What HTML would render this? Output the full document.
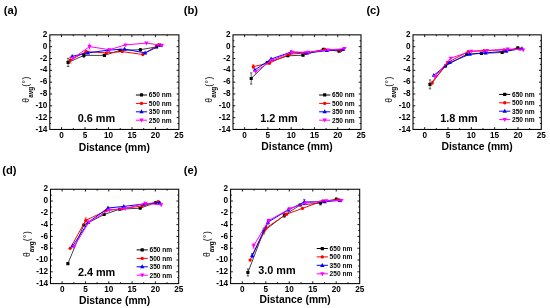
<!DOCTYPE html>
<html lang="en"><head><meta charset="utf-8"><title>Figure</title>
<style>html,body{margin:0;padding:0;background:#fff}svg{display:block}</style>
</head><body>
<svg width="550" height="308" viewBox="0 0 550 308" font-family="&quot;Liberation Sans&quot;, Arial, sans-serif" font-weight="bold" fill="#000">
<rect width="550" height="308" fill="#fff"/>
<g>
<text x="3.7" y="14.35" font-size="11.2">(a)</text>
<path d="M61.54 129.45v-2.3M61.54 34.85v2.3M73.27 129.45v-1.4M73.27 34.85v1.4M85.01 129.45v-2.3M85.01 34.85v2.3M96.75 129.45v-1.4M96.75 34.85v1.4M108.48 129.45v-2.3M108.48 34.85v2.3M120.22 129.45v-1.4M120.22 34.85v1.4M131.95 129.45v-2.3M131.95 34.85v2.3M143.69 129.45v-1.4M143.69 34.85v1.4M155.43 129.45v-2.3M155.43 34.85v2.3M167.16 129.45v-1.4M167.16 34.85v1.4M49.8 40.76h1.4M178.9 40.76h-1.4M49.8 46.67h2.3M178.9 46.67h-2.3M49.8 52.59h1.4M178.9 52.59h-1.4M49.8 58.50h2.3M178.9 58.50h-2.3M49.8 64.41h1.4M178.9 64.41h-1.4M49.8 70.32h2.3M178.9 70.32h-2.3M49.8 76.24h1.4M178.9 76.24h-1.4M49.8 82.15h2.3M178.9 82.15h-2.3M49.8 88.06h1.4M178.9 88.06h-1.4M49.8 93.97h2.3M178.9 93.97h-2.3M49.8 99.89h1.4M178.9 99.89h-1.4M49.8 105.80h2.3M178.9 105.80h-2.3M49.8 111.71h1.4M178.9 111.71h-1.4M49.8 117.62h2.3M178.9 117.62h-2.3M49.8 123.54h1.4M178.9 123.54h-1.4" stroke="#000" stroke-width="0.9" fill="none"/>
<path d="M68.1 62.4L83.9 55.4L104.4 55.4L120.1 50.4L140.4 49.7L156.6 46.9" stroke="#000000" stroke-width="0.75" fill="none"/>
<path d="M68.1 58.3V66.5M66.9 58.3h2.4M66.9 66.5h2.4M83.9 53.5V57.3M82.7 53.5h2.4M82.7 57.3h2.4M104.4 54.4V56.4M103.2 54.4h2.4M103.2 56.4h2.4M120.1 49.4V51.4M118.9 49.4h2.4M118.9 51.4h2.4M140.4 48.5V50.9M139.2 48.5h2.4M139.2 50.9h2.4M156.6 46.1V47.7M155.4 46.1h2.4M155.4 47.7h2.4" stroke="#000000" stroke-width="0.6" fill="none"/>
<rect x="66.53" y="60.83" width="3.13" height="3.13" rx="0.5" fill="#000000"/>
<rect x="82.33" y="53.83" width="3.13" height="3.13" rx="0.5" fill="#000000"/>
<rect x="102.83" y="53.83" width="3.13" height="3.13" rx="0.5" fill="#000000"/>
<rect x="118.53" y="48.83" width="3.13" height="3.13" rx="0.5" fill="#000000"/>
<rect x="138.83" y="48.13" width="3.13" height="3.13" rx="0.5" fill="#000000"/>
<rect x="155.03" y="45.33" width="3.13" height="3.13" rx="0.5" fill="#000000"/>
<path d="M70.3 60.1L86.1 51.6L106.3 52.9L122.3 51.6L142.9 54.5L158.7 44.7" stroke="#ff0000" stroke-width="1.0" fill="none"/>
<path d="M70.3 57.1V63.1M69.1 57.1h2.4M69.1 63.1h2.4M86.1 50.6V52.6M84.9 50.6h2.4M84.9 52.6h2.4" stroke="#ff0000" stroke-width="0.6" fill="none"/>
<circle cx="70.3" cy="60.1" r="1.65" fill="#ff0000"/>
<circle cx="86.1" cy="51.6" r="1.65" fill="#ff0000"/>
<circle cx="106.3" cy="52.9" r="1.65" fill="#ff0000"/>
<circle cx="122.3" cy="51.6" r="1.65" fill="#ff0000"/>
<circle cx="142.9" cy="54.5" r="1.65" fill="#ff0000"/>
<circle cx="158.7" cy="44.7" r="1.65" fill="#ff0000"/>
<path d="M72.2 56.3L88.0 52.9L108.5 50.1L124.6 49.1L145.1 52.9L160.6 45.3" stroke="#0000ff" stroke-width="1.0" fill="none"/>
<path d="M72.2 53.9L74.3 57.8L70.1 57.8Z" fill="#0000ff"/>
<path d="M88.0 50.5L90.1 54.4L85.9 54.4Z" fill="#0000ff"/>
<path d="M108.5 47.7L110.6 51.6L106.4 51.6Z" fill="#0000ff"/>
<path d="M124.6 46.7L126.7 50.6L122.5 50.6Z" fill="#0000ff"/>
<path d="M145.1 50.5L147.2 54.4L143.0 54.4Z" fill="#0000ff"/>
<path d="M160.6 42.9L162.7 46.8L158.5 46.8Z" fill="#0000ff"/>
<path d="M73.0 58.3L89.5 46.6L109.5 49.7L125.4 44.9L146.3 43.1L161.9 45.3" stroke="#ff00ff" stroke-width="1.0" fill="none"/>
<path d="M89.5 44.1V49.1M88.3 44.1h2.4M88.3 49.1h2.4" stroke="#ff00ff" stroke-width="0.6" fill="none"/>
<path d="M73.0 60.7L75.1 56.8L70.9 56.8Z" fill="#ff00ff"/>
<path d="M89.5 49.0L91.6 45.1L87.4 45.1Z" fill="#ff00ff"/>
<path d="M109.5 52.1L111.6 48.2L107.4 48.2Z" fill="#ff00ff"/>
<path d="M125.4 47.3L127.5 43.4L123.3 43.4Z" fill="#ff00ff"/>
<path d="M146.3 45.5L148.4 41.6L144.2 41.6Z" fill="#ff00ff"/>
<path d="M161.9 47.7L164.0 43.8L159.8 43.8Z" fill="#ff00ff"/>
<rect x="49.8" y="34.85" width="129.10000000000002" height="94.6" fill="none" stroke="#000" stroke-width="1.05"/>
<text x="61.5" y="138.0" font-size="8.2" text-anchor="middle">0</text>
<text x="85.0" y="138.0" font-size="8.2" text-anchor="middle">5</text>
<text x="108.5" y="138.0" font-size="8.2" text-anchor="middle">10</text>
<text x="132.0" y="138.0" font-size="8.2" text-anchor="middle">15</text>
<text x="155.4" y="138.0" font-size="8.2" text-anchor="middle">20</text>
<text x="178.9" y="138.0" font-size="8.2" text-anchor="middle">25</text>
<text x="47.3" y="37.0" font-size="8.2" text-anchor="end">2</text>
<text x="47.3" y="48.8" font-size="8.2" text-anchor="end">0</text>
<text x="47.3" y="60.6" font-size="8.2" text-anchor="end">-2</text>
<text x="47.3" y="72.4" font-size="8.2" text-anchor="end">-4</text>
<text x="47.3" y="84.2" font-size="8.2" text-anchor="end">-6</text>
<text x="47.3" y="96.1" font-size="8.2" text-anchor="end">-8</text>
<text x="47.3" y="107.9" font-size="8.2" text-anchor="end">-10</text>
<text x="47.3" y="119.7" font-size="8.2" text-anchor="end">-12</text>
<text x="47.3" y="131.5" font-size="8.2" text-anchor="end">-14</text>
<text x="114.3" y="150.6" font-size="10.35" text-anchor="middle">Distance (mm)</text>
<text transform="translate(28.9 102.7) rotate(-90)" font-size="8.7" font-weight="normal">θ<tspan font-size="6.4" dy="4.1" font-weight="bold">avg</tspan><tspan dy="-4.1" letter-spacing="0.45">(°)</tspan></text>
<text x="77.7" y="122.3" font-size="10.85">0.6 mm</text>
<path d="M135.9 95.0h11.2" stroke="#000000" stroke-width="1" fill="none"/>
<rect x="139.88" y="93.34" width="3.23" height="3.23" rx="0.5" fill="#000000"/>
<text x="148.8" y="97.2" font-size="6.6">650 nm</text>
<path d="M135.9 103.4h11.2" stroke="#ff0000" stroke-width="1" fill="none"/>
<circle cx="141.5" cy="103.4" r="1.70" fill="#ff0000"/>
<text x="148.8" y="105.7" font-size="6.6">500 nm</text>
<path d="M135.9 111.8h11.2" stroke="#0000ff" stroke-width="1" fill="none"/>
<path d="M141.5 109.3L143.7 113.3L139.3 113.3Z" fill="#0000ff"/>
<text x="148.8" y="114.0" font-size="6.6">350 nm</text>
<path d="M135.9 120.2h11.2" stroke="#ff00ff" stroke-width="1" fill="none"/>
<path d="M141.5 122.6L143.7 118.6L139.3 118.6Z" fill="#ff00ff"/>
<text x="148.8" y="122.5" font-size="6.6">250 nm</text>
</g>
<g>
<text x="183.8" y="14.35" font-size="11.2">(b)</text>
<path d="M244.64 129.45v-2.3M244.64 34.85v2.3M256.27 129.45v-1.4M256.27 34.85v1.4M267.91 129.45v-2.3M267.91 34.85v2.3M279.55 129.45v-1.4M279.55 34.85v1.4M291.18 129.45v-2.3M291.18 34.85v2.3M302.82 129.45v-1.4M302.82 34.85v1.4M314.45 129.45v-2.3M314.45 34.85v2.3M326.09 129.45v-1.4M326.09 34.85v1.4M337.73 129.45v-2.3M337.73 34.85v2.3M349.36 129.45v-1.4M349.36 34.85v1.4M233 40.76h1.4M361 40.76h-1.4M233 46.67h2.3M361 46.67h-2.3M233 52.59h1.4M361 52.59h-1.4M233 58.50h2.3M361 58.50h-2.3M233 64.41h1.4M361 64.41h-1.4M233 70.32h2.3M361 70.32h-2.3M233 76.24h1.4M361 76.24h-1.4M233 82.15h2.3M361 82.15h-2.3M233 88.06h1.4M361 88.06h-1.4M233 93.97h2.3M361 93.97h-2.3M233 99.89h1.4M361 99.89h-1.4M233 105.80h2.3M361 105.80h-2.3M233 111.71h1.4M361 111.71h-1.4M233 117.62h2.3M361 117.62h-2.3M233 123.54h1.4M361 123.54h-1.4" stroke="#000" stroke-width="0.9" fill="none"/>
<path d="M251.2 78.5L267.4 62.6L287.9 55.8L303.0 55.2L323.5 49.3L339.1 51.2" stroke="#000000" stroke-width="0.75" fill="none"/>
<path d="M251.2 72.9V84.1M250.0 72.9h2.4M250.0 84.1h2.4M267.4 61.4V63.8M266.2 61.4h2.4M266.2 63.8h2.4M287.9 55.0V56.6M286.7 55.0h2.4M286.7 56.6h2.4M303.0 54.4V56.0M301.8 54.4h2.4M301.8 56.0h2.4" stroke="#000000" stroke-width="0.6" fill="none"/>
<rect x="249.63" y="76.93" width="3.13" height="3.13" rx="0.5" fill="#000000"/>
<rect x="265.83" y="61.03" width="3.13" height="3.13" rx="0.5" fill="#000000"/>
<rect x="286.33" y="54.23" width="3.13" height="3.13" rx="0.5" fill="#000000"/>
<rect x="301.43" y="53.63" width="3.13" height="3.13" rx="0.5" fill="#000000"/>
<rect x="321.93" y="47.73" width="3.13" height="3.13" rx="0.5" fill="#000000"/>
<rect x="337.53" y="49.63" width="3.13" height="3.13" rx="0.5" fill="#000000"/>
<path d="M253.3 66.7L269.5 62.9L289.5 54.2L305.0 53.0L325.1 49.5L341.0 50.6" stroke="#ff0000" stroke-width="1.0" fill="none"/>
<path d="M253.3 64.7V68.7M252.1 64.7h2.4M252.1 68.7h2.4M269.5 61.4V64.4M268.3 61.4h2.4M268.3 64.4h2.4" stroke="#ff0000" stroke-width="0.6" fill="none"/>
<circle cx="253.3" cy="66.7" r="1.65" fill="#ff0000"/>
<circle cx="269.5" cy="62.9" r="1.65" fill="#ff0000"/>
<circle cx="289.5" cy="54.2" r="1.65" fill="#ff0000"/>
<circle cx="305.0" cy="53.0" r="1.65" fill="#ff0000"/>
<circle cx="325.1" cy="49.5" r="1.65" fill="#ff0000"/>
<circle cx="341.0" cy="50.6" r="1.65" fill="#ff0000"/>
<path d="M254.9 69.9L271.1 59.0L291.1 52.0L307.0 53.0L327.0 50.6L343.0 49.5" stroke="#0000ff" stroke-width="1.0" fill="none"/>
<path d="M254.9 67.5L257.0 71.4L252.8 71.4Z" fill="#0000ff"/>
<path d="M271.1 56.6L273.2 60.5L269.0 60.5Z" fill="#0000ff"/>
<path d="M291.1 49.6L293.2 53.5L289.0 53.5Z" fill="#0000ff"/>
<path d="M307.0 50.6L309.1 54.5L304.9 54.5Z" fill="#0000ff"/>
<path d="M327.0 48.2L329.1 52.1L324.9 52.1Z" fill="#0000ff"/>
<path d="M343.0 47.1L345.1 51.0L340.9 51.0Z" fill="#0000ff"/>
<path d="M255.7 71.5L272.0 60.2L291.8 52.0L308.2 52.3L328.7 49.9L344.5 48.6" stroke="#ff00ff" stroke-width="1.0" fill="none"/>
<path d="M255.7 73.9L257.8 70.0L253.6 70.0Z" fill="#ff00ff"/>
<path d="M272.0 62.6L274.1 58.7L269.9 58.7Z" fill="#ff00ff"/>
<path d="M291.8 54.4L293.9 50.5L289.7 50.5Z" fill="#ff00ff"/>
<path d="M308.2 54.7L310.3 50.8L306.1 50.8Z" fill="#ff00ff"/>
<path d="M328.7 52.3L330.8 48.4L326.6 48.4Z" fill="#ff00ff"/>
<path d="M344.5 51.0L346.6 47.1L342.4 47.1Z" fill="#ff00ff"/>
<rect x="233" y="34.85" width="128" height="94.6" fill="none" stroke="#000" stroke-width="1.05"/>
<text x="244.6" y="138.0" font-size="8.2" text-anchor="middle">0</text>
<text x="267.9" y="138.0" font-size="8.2" text-anchor="middle">5</text>
<text x="291.2" y="138.0" font-size="8.2" text-anchor="middle">10</text>
<text x="314.5" y="138.0" font-size="8.2" text-anchor="middle">15</text>
<text x="337.7" y="138.0" font-size="8.2" text-anchor="middle">20</text>
<text x="361.0" y="138.0" font-size="8.2" text-anchor="middle">25</text>
<text x="230.5" y="37.0" font-size="8.2" text-anchor="end">2</text>
<text x="230.5" y="48.8" font-size="8.2" text-anchor="end">0</text>
<text x="230.5" y="60.6" font-size="8.2" text-anchor="end">-2</text>
<text x="230.5" y="72.4" font-size="8.2" text-anchor="end">-4</text>
<text x="230.5" y="84.2" font-size="8.2" text-anchor="end">-6</text>
<text x="230.5" y="96.1" font-size="8.2" text-anchor="end">-8</text>
<text x="230.5" y="107.9" font-size="8.2" text-anchor="end">-10</text>
<text x="230.5" y="119.7" font-size="8.2" text-anchor="end">-12</text>
<text x="230.5" y="131.5" font-size="8.2" text-anchor="end">-14</text>
<text x="297.0" y="149.5" font-size="10.35" text-anchor="middle">Distance (mm)</text>
<text transform="translate(212.1 102.7) rotate(-90)" font-size="8.7" font-weight="normal">θ<tspan font-size="6.4" dy="4.1" font-weight="bold">avg</tspan><tspan dy="-4.1" letter-spacing="0.45">(°)</tspan></text>
<text x="260.2" y="122.1" font-size="10.85">1.2 mm</text>
<path d="M319.1 95.0h11.2" stroke="#000000" stroke-width="1" fill="none"/>
<rect x="323.09" y="93.34" width="3.23" height="3.23" rx="0.5" fill="#000000"/>
<text x="332.0" y="97.2" font-size="6.6">650 nm</text>
<path d="M319.1 103.4h11.2" stroke="#ff0000" stroke-width="1" fill="none"/>
<circle cx="324.7" cy="103.4" r="1.70" fill="#ff0000"/>
<text x="332.0" y="105.7" font-size="6.6">500 nm</text>
<path d="M319.1 111.8h11.2" stroke="#0000ff" stroke-width="1" fill="none"/>
<path d="M324.7 109.3L326.9 113.3L322.5 113.3Z" fill="#0000ff"/>
<text x="332.0" y="114.0" font-size="6.6">350 nm</text>
<path d="M319.1 120.2h11.2" stroke="#ff00ff" stroke-width="1" fill="none"/>
<path d="M324.7 122.6L326.9 118.6L322.5 118.6Z" fill="#ff00ff"/>
<text x="332.0" y="122.5" font-size="6.6">250 nm</text>
</g>
<g>
<text x="366.4" y="13.8" font-size="11.2">(c)</text>
<path d="M424.66 129.45v-2.3M424.66 34.85v2.3M436.33 129.45v-1.4M436.33 34.85v1.4M447.99 129.45v-2.3M447.99 34.85v2.3M459.65 129.45v-1.4M459.65 34.85v1.4M471.32 129.45v-2.3M471.32 34.85v2.3M482.98 129.45v-1.4M482.98 34.85v1.4M494.65 129.45v-2.3M494.65 34.85v2.3M506.31 129.45v-1.4M506.31 34.85v1.4M517.97 129.45v-2.3M517.97 34.85v2.3M529.64 129.45v-1.4M529.64 34.85v1.4M413 40.76h1.4M541.3 40.76h-1.4M413 46.67h2.3M541.3 46.67h-2.3M413 52.59h1.4M541.3 52.59h-1.4M413 58.50h2.3M541.3 58.50h-2.3M413 64.41h1.4M541.3 64.41h-1.4M413 70.32h2.3M541.3 70.32h-2.3M413 76.24h1.4M541.3 76.24h-1.4M413 82.15h2.3M541.3 82.15h-2.3M413 88.06h1.4M541.3 88.06h-1.4M413 93.97h2.3M541.3 93.97h-2.3M413 99.89h1.4M541.3 99.89h-1.4M413 105.80h2.3M541.3 105.80h-2.3M413 111.71h1.4M541.3 111.71h-1.4M413 117.62h2.3M541.3 117.62h-2.3M413 123.54h1.4M541.3 123.54h-1.4" stroke="#000" stroke-width="0.9" fill="none"/>
<path d="M430.0 84.4L445.5 66.0L466.6 54.2L481.4 53.4L502.2 52.5L517.8 47.7" stroke="#000000" stroke-width="0.75" fill="none"/>
<path d="M430.0 79.9V88.9M428.8 79.9h2.4M428.8 88.9h2.4M445.5 65.0V67.0M444.3 65.0h2.4M444.3 67.0h2.4" stroke="#000000" stroke-width="0.6" fill="none"/>
<rect x="428.43" y="82.83" width="3.13" height="3.13" rx="0.5" fill="#000000"/>
<rect x="443.93" y="64.43" width="3.13" height="3.13" rx="0.5" fill="#000000"/>
<rect x="465.03" y="52.63" width="3.13" height="3.13" rx="0.5" fill="#000000"/>
<rect x="479.83" y="51.83" width="3.13" height="3.13" rx="0.5" fill="#000000"/>
<rect x="500.63" y="50.93" width="3.13" height="3.13" rx="0.5" fill="#000000"/>
<rect x="516.23" y="46.13" width="3.13" height="3.13" rx="0.5" fill="#000000"/>
<path d="M432.2 83.0L447.6 62.5L468.2 51.6L483.8 50.6L504.0 49.9L520.0 49.0" stroke="#ff0000" stroke-width="1.0" fill="none"/>
<circle cx="432.2" cy="83.0" r="1.65" fill="#ff0000"/>
<circle cx="447.6" cy="62.5" r="1.65" fill="#ff0000"/>
<circle cx="468.2" cy="51.6" r="1.65" fill="#ff0000"/>
<circle cx="483.8" cy="50.6" r="1.65" fill="#ff0000"/>
<circle cx="504.0" cy="49.9" r="1.65" fill="#ff0000"/>
<circle cx="520.0" cy="49.0" r="1.65" fill="#ff0000"/>
<path d="M433.8 75.3L449.7 62.6L469.8 54.2L485.6 52.9L506.1 51.2L522.0 48.6" stroke="#0000ff" stroke-width="1.0" fill="none"/>
<path d="M433.8 72.9L435.9 76.8L431.7 76.8Z" fill="#0000ff"/>
<path d="M449.7 60.2L451.8 64.1L447.6 64.1Z" fill="#0000ff"/>
<path d="M469.8 51.8L471.9 55.7L467.7 55.7Z" fill="#0000ff"/>
<path d="M485.6 50.5L487.7 54.4L483.5 54.4Z" fill="#0000ff"/>
<path d="M506.1 48.8L508.2 52.7L504.0 52.7Z" fill="#0000ff"/>
<path d="M522.0 46.2L524.1 50.1L519.9 50.1Z" fill="#0000ff"/>
<path d="M435.0 76.5L450.7 58.2L471.1 51.2L487.1 50.6L507.7 49.0L523.2 49.9" stroke="#ff00ff" stroke-width="1.0" fill="none"/>
<path d="M435.0 78.9L437.1 75.0L432.9 75.0Z" fill="#ff00ff"/>
<path d="M450.7 60.6L452.8 56.7L448.6 56.7Z" fill="#ff00ff"/>
<path d="M471.1 53.6L473.2 49.7L469.0 49.7Z" fill="#ff00ff"/>
<path d="M487.1 53.0L489.2 49.1L485.0 49.1Z" fill="#ff00ff"/>
<path d="M507.7 51.4L509.8 47.5L505.6 47.5Z" fill="#ff00ff"/>
<path d="M523.2 52.3L525.3 48.4L521.1 48.4Z" fill="#ff00ff"/>
<rect x="413" y="34.85" width="128.29999999999995" height="94.6" fill="none" stroke="#000" stroke-width="1.05"/>
<text x="424.7" y="138.0" font-size="8.2" text-anchor="middle">0</text>
<text x="448.0" y="138.0" font-size="8.2" text-anchor="middle">5</text>
<text x="471.3" y="138.0" font-size="8.2" text-anchor="middle">10</text>
<text x="494.6" y="138.0" font-size="8.2" text-anchor="middle">15</text>
<text x="518.0" y="138.0" font-size="8.2" text-anchor="middle">20</text>
<text x="541.3" y="138.0" font-size="8.2" text-anchor="middle">25</text>
<text x="410.5" y="37.0" font-size="8.2" text-anchor="end">2</text>
<text x="410.5" y="48.8" font-size="8.2" text-anchor="end">0</text>
<text x="410.5" y="60.6" font-size="8.2" text-anchor="end">-2</text>
<text x="410.5" y="72.4" font-size="8.2" text-anchor="end">-4</text>
<text x="410.5" y="84.2" font-size="8.2" text-anchor="end">-6</text>
<text x="410.5" y="96.1" font-size="8.2" text-anchor="end">-8</text>
<text x="410.5" y="107.9" font-size="8.2" text-anchor="end">-10</text>
<text x="410.5" y="119.7" font-size="8.2" text-anchor="end">-12</text>
<text x="410.5" y="131.5" font-size="8.2" text-anchor="end">-14</text>
<text x="477.1" y="149.8" font-size="10.35" text-anchor="middle">Distance (mm)</text>
<text transform="translate(392.1 102.7) rotate(-90)" font-size="8.7" font-weight="normal">θ<tspan font-size="6.4" dy="4.1" font-weight="bold">avg</tspan><tspan dy="-4.1" letter-spacing="0.45">(°)</tspan></text>
<text x="440.2" y="122.1" font-size="10.85">1.8 mm</text>
<path d="M499.1 94.4h11.2" stroke="#000000" stroke-width="1" fill="none"/>
<rect x="503.09" y="92.74" width="3.23" height="3.23" rx="0.5" fill="#000000"/>
<text x="512.0" y="96.7" font-size="6.6">650 nm</text>
<path d="M499.1 102.8h11.2" stroke="#ff0000" stroke-width="1" fill="none"/>
<circle cx="504.7" cy="102.8" r="1.70" fill="#ff0000"/>
<text x="512.0" y="105.1" font-size="6.6">500 nm</text>
<path d="M499.1 111.2h11.2" stroke="#0000ff" stroke-width="1" fill="none"/>
<path d="M504.7 108.7L506.9 112.7L502.5 112.7Z" fill="#0000ff"/>
<text x="512.0" y="113.5" font-size="6.6">350 nm</text>
<path d="M499.1 119.6h11.2" stroke="#ff00ff" stroke-width="1" fill="none"/>
<path d="M504.7 122.0L506.9 118.0L502.5 118.0Z" fill="#ff00ff"/>
<text x="512.0" y="121.9" font-size="6.6">250 nm</text>
</g>
<g>
<text x="2.2" y="173.75" font-size="11.2">(d)</text>
<path d="M62.15 283.6v-2.3M62.15 189.25v2.3M73.81 283.6v-1.4M73.81 189.25v1.4M85.46 283.6v-2.3M85.46 189.25v2.3M97.12 283.6v-1.4M97.12 189.25v1.4M108.77 283.6v-2.3M108.77 189.25v2.3M120.43 283.6v-1.4M120.43 189.25v1.4M132.08 283.6v-2.3M132.08 189.25v2.3M143.74 283.6v-1.4M143.74 189.25v1.4M155.39 283.6v-2.3M155.39 189.25v2.3M167.05 283.6v-1.4M167.05 189.25v1.4M50.5 195.15h1.4M178.7 195.15h-1.4M50.5 201.04h2.3M178.7 201.04h-2.3M50.5 206.94h1.4M178.7 206.94h-1.4M50.5 212.84h2.3M178.7 212.84h-2.3M50.5 218.73h1.4M178.7 218.73h-1.4M50.5 224.63h2.3M178.7 224.63h-2.3M50.5 230.53h1.4M178.7 230.53h-1.4M50.5 236.43h2.3M178.7 236.43h-2.3M50.5 242.32h1.4M178.7 242.32h-1.4M50.5 248.22h2.3M178.7 248.22h-2.3M50.5 254.12h1.4M178.7 254.12h-1.4M50.5 260.01h2.3M178.7 260.01h-2.3M50.5 265.91h1.4M178.7 265.91h-1.4M50.5 271.81h2.3M178.7 271.81h-2.3M50.5 277.70h1.4M178.7 277.70h-1.4" stroke="#000" stroke-width="0.9" fill="none"/>
<path d="M67.9 263.6L83.8 225.0L104.1 214.5L119.7 209.2L140.2 208.2L155.8 202.6" stroke="#000000" stroke-width="0.75" fill="none"/>
<rect x="66.33" y="262.03" width="3.13" height="3.13" rx="0.5" fill="#000000"/>
<rect x="82.23" y="223.43" width="3.13" height="3.13" rx="0.5" fill="#000000"/>
<rect x="102.53" y="212.93" width="3.13" height="3.13" rx="0.5" fill="#000000"/>
<rect x="118.13" y="207.63" width="3.13" height="3.13" rx="0.5" fill="#000000"/>
<rect x="138.63" y="206.63" width="3.13" height="3.13" rx="0.5" fill="#000000"/>
<rect x="154.23" y="201.03" width="3.13" height="3.13" rx="0.5" fill="#000000"/>
<path d="M70.1 248.3L85.8 220.4L106.3 210.6L122.0 208.8L142.0 205.9L158.0 201.7" stroke="#ff0000" stroke-width="1.0" fill="none"/>
<path d="M85.8 217.9V222.9M84.6 217.9h2.4M84.6 222.9h2.4" stroke="#ff0000" stroke-width="0.6" fill="none"/>
<circle cx="70.1" cy="248.3" r="1.65" fill="#ff0000"/>
<circle cx="85.8" cy="220.4" r="1.65" fill="#ff0000"/>
<circle cx="106.3" cy="210.6" r="1.65" fill="#ff0000"/>
<circle cx="122.0" cy="208.8" r="1.65" fill="#ff0000"/>
<circle cx="142.0" cy="205.9" r="1.65" fill="#ff0000"/>
<circle cx="158.0" cy="201.7" r="1.65" fill="#ff0000"/>
<path d="M72.7 246.0L88.2 222.4L108.0 208.0L123.8 206.4L144.4 203.9L159.7 202.6" stroke="#0000ff" stroke-width="1.0" fill="none"/>
<path d="M72.7 243.6L74.8 247.5L70.6 247.5Z" fill="#0000ff"/>
<path d="M88.2 220.0L90.3 223.9L86.1 223.9Z" fill="#0000ff"/>
<path d="M108.0 205.6L110.1 209.5L105.9 209.5Z" fill="#0000ff"/>
<path d="M123.8 204.0L125.9 207.9L121.7 207.9Z" fill="#0000ff"/>
<path d="M144.4 201.5L146.5 205.4L142.3 205.4Z" fill="#0000ff"/>
<path d="M159.7 200.2L161.8 204.1L157.6 204.1Z" fill="#0000ff"/>
<path d="M74.0 246.6L89.0 222.0L109.3 209.9L125.1 208.5L145.4 203.3L161.2 204.8" stroke="#ff00ff" stroke-width="1.0" fill="none"/>
<path d="M74.0 249.0L76.1 245.1L71.9 245.1Z" fill="#ff00ff"/>
<path d="M89.0 224.4L91.1 220.5L86.9 220.5Z" fill="#ff00ff"/>
<path d="M109.3 212.3L111.4 208.4L107.2 208.4Z" fill="#ff00ff"/>
<path d="M125.1 210.9L127.2 207.0L123.0 207.0Z" fill="#ff00ff"/>
<path d="M145.4 205.7L147.5 201.8L143.3 201.8Z" fill="#ff00ff"/>
<path d="M161.2 207.2L163.3 203.3L159.1 203.3Z" fill="#ff00ff"/>
<rect x="50.5" y="189.25" width="128.2" height="94.35000000000002" fill="none" stroke="#000" stroke-width="1.05"/>
<text x="62.2" y="292.2" font-size="8.2" text-anchor="middle">0</text>
<text x="85.5" y="292.2" font-size="8.2" text-anchor="middle">5</text>
<text x="108.8" y="292.2" font-size="8.2" text-anchor="middle">10</text>
<text x="132.1" y="292.2" font-size="8.2" text-anchor="middle">15</text>
<text x="155.4" y="292.2" font-size="8.2" text-anchor="middle">20</text>
<text x="178.7" y="292.2" font-size="8.2" text-anchor="middle">25</text>
<text x="48.0" y="191.3" font-size="8.2" text-anchor="end">2</text>
<text x="48.0" y="203.1" font-size="8.2" text-anchor="end">0</text>
<text x="48.0" y="214.9" font-size="8.2" text-anchor="end">-2</text>
<text x="48.0" y="226.7" font-size="8.2" text-anchor="end">-4</text>
<text x="48.0" y="238.5" font-size="8.2" text-anchor="end">-6</text>
<text x="48.0" y="250.3" font-size="8.2" text-anchor="end">-8</text>
<text x="48.0" y="262.1" font-size="8.2" text-anchor="end">-10</text>
<text x="48.0" y="273.9" font-size="8.2" text-anchor="end">-12</text>
<text x="48.0" y="285.7" font-size="8.2" text-anchor="end">-14</text>
<text x="114.6" y="304.3" font-size="10.35" text-anchor="middle">Distance (mm)</text>
<text transform="translate(29.6 257.1) rotate(-90)" font-size="8.7" font-weight="normal">θ<tspan font-size="6.4" dy="4.1" font-weight="bold">avg</tspan><tspan dy="-4.1" letter-spacing="0.45">(°)</tspan></text>
<text x="77.9" y="275.6" font-size="10.85">2.4 mm</text>
<path d="M136.6 249.9h11.2" stroke="#000000" stroke-width="1" fill="none"/>
<rect x="140.58" y="248.33" width="3.23" height="3.23" rx="0.5" fill="#000000"/>
<text x="149.5" y="252.2" font-size="6.6">650 nm</text>
<path d="M136.6 258.4h11.2" stroke="#ff0000" stroke-width="1" fill="none"/>
<circle cx="142.2" cy="258.4" r="1.70" fill="#ff0000"/>
<text x="149.5" y="260.7" font-size="6.6">500 nm</text>
<path d="M136.6 266.8h11.2" stroke="#0000ff" stroke-width="1" fill="none"/>
<path d="M142.2 264.3L144.4 268.3L140.0 268.3Z" fill="#0000ff"/>
<text x="149.5" y="269.1" font-size="6.6">350 nm</text>
<path d="M136.6 275.2h11.2" stroke="#ff00ff" stroke-width="1" fill="none"/>
<path d="M142.2 277.6L144.4 273.6L140.0 273.6Z" fill="#ff00ff"/>
<text x="149.5" y="277.5" font-size="6.6">250 nm</text>
</g>
<g>
<text x="183.8" y="173.75" font-size="11.2">(e)</text>
<path d="M242.34 283.6v-2.3M242.34 189.25v2.3M254.07 283.6v-1.4M254.07 189.25v1.4M265.81 283.6v-2.3M265.81 189.25v2.3M277.55 283.6v-1.4M277.55 189.25v1.4M289.28 283.6v-2.3M289.28 189.25v2.3M301.02 283.6v-1.4M301.02 189.25v1.4M312.75 283.6v-2.3M312.75 189.25v2.3M324.49 283.6v-1.4M324.49 189.25v1.4M336.23 283.6v-2.3M336.23 189.25v2.3M347.96 283.6v-1.4M347.96 189.25v1.4M230.6 195.15h1.4M359.7 195.15h-1.4M230.6 201.04h2.3M359.7 201.04h-2.3M230.6 206.94h1.4M359.7 206.94h-1.4M230.6 212.84h2.3M359.7 212.84h-2.3M230.6 218.73h1.4M359.7 218.73h-1.4M230.6 224.63h2.3M359.7 224.63h-2.3M230.6 230.53h1.4M359.7 230.53h-1.4M230.6 236.43h2.3M359.7 236.43h-2.3M230.6 242.32h1.4M359.7 242.32h-1.4M230.6 248.22h2.3M359.7 248.22h-2.3M230.6 254.12h1.4M359.7 254.12h-1.4M230.6 260.01h2.3M359.7 260.01h-2.3M230.6 265.91h1.4M359.7 265.91h-1.4M230.6 271.81h2.3M359.7 271.81h-2.3M230.6 277.70h1.4M359.7 277.70h-1.4" stroke="#000" stroke-width="0.9" fill="none"/>
<path d="M247.9 272.5L263.8 231.0L284.4 215.3L300.1 205.0L320.5 203.0L336.3 199.1" stroke="#000000" stroke-width="0.75" fill="none"/>
<path d="M247.9 269.0V276.0M246.7 269.0h2.4M246.7 276.0h2.4M263.8 228.0V234.0M262.6 228.0h2.4M262.6 234.0h2.4M284.4 213.3V217.3M283.2 213.3h2.4M283.2 217.3h2.4M320.5 201.0V205.0M319.3 201.0h2.4M319.3 205.0h2.4" stroke="#000000" stroke-width="0.6" fill="none"/>
<rect x="246.33" y="270.93" width="3.13" height="3.13" rx="0.5" fill="#000000"/>
<rect x="262.23" y="229.43" width="3.13" height="3.13" rx="0.5" fill="#000000"/>
<rect x="282.83" y="213.73" width="3.13" height="3.13" rx="0.5" fill="#000000"/>
<rect x="298.53" y="203.43" width="3.13" height="3.13" rx="0.5" fill="#000000"/>
<rect x="318.93" y="201.43" width="3.13" height="3.13" rx="0.5" fill="#000000"/>
<rect x="334.73" y="197.53" width="3.13" height="3.13" rx="0.5" fill="#000000"/>
<path d="M250.1 260.1L266.0 228.0L286.5 214.2L302.4 208.4L322.8 200.9L338.0 199.6" stroke="#ff0000" stroke-width="1.0" fill="none"/>
<path d="M266.0 226.0V230.0M264.8 226.0h2.4M264.8 230.0h2.4M286.5 213.2V215.2M285.3 213.2h2.4M285.3 215.2h2.4" stroke="#ff0000" stroke-width="0.6" fill="none"/>
<circle cx="250.1" cy="260.1" r="1.65" fill="#ff0000"/>
<circle cx="266.0" cy="228.0" r="1.65" fill="#ff0000"/>
<circle cx="286.5" cy="214.2" r="1.65" fill="#ff0000"/>
<circle cx="302.4" cy="208.4" r="1.65" fill="#ff0000"/>
<circle cx="322.8" cy="200.9" r="1.65" fill="#ff0000"/>
<circle cx="338.0" cy="199.6" r="1.65" fill="#ff0000"/>
<path d="M252.2 255.6L267.9 222.2L288.4 209.8L304.3 202.0L324.6 201.7L339.9 200.4" stroke="#0000ff" stroke-width="1.0" fill="none"/>
<path d="M252.2 253.6V257.6M251.0 253.6h2.4M251.0 257.6h2.4M267.9 220.2V224.2M266.7 220.2h2.4M266.7 224.2h2.4M288.4 208.3V211.3M287.2 208.3h2.4M287.2 211.3h2.4M304.3 199.4V204.6M303.1 199.4h2.4M303.1 204.6h2.4" stroke="#0000ff" stroke-width="0.6" fill="none"/>
<path d="M252.2 253.2L254.3 257.1L250.1 257.1Z" fill="#0000ff"/>
<path d="M267.9 219.8L270.0 223.7L265.8 223.7Z" fill="#0000ff"/>
<path d="M288.4 207.4L290.5 211.3L286.3 211.3Z" fill="#0000ff"/>
<path d="M304.3 199.6L306.4 203.5L302.2 203.5Z" fill="#0000ff"/>
<path d="M324.6 199.3L326.7 203.2L322.5 203.2Z" fill="#0000ff"/>
<path d="M339.9 198.0L342.0 201.9L337.8 201.9Z" fill="#0000ff"/>
<path d="M253.6 245.8L268.7 220.5L289.7 208.8L305.5 203.0L326.3 200.7L341.5 200.4" stroke="#ff00ff" stroke-width="1.0" fill="none"/>
<path d="M253.6 243.3V248.3M252.4 243.3h2.4M252.4 248.3h2.4M268.7 219.0V222.0M267.5 219.0h2.4M267.5 222.0h2.4" stroke="#ff00ff" stroke-width="0.6" fill="none"/>
<path d="M253.6 248.2L255.7 244.3L251.5 244.3Z" fill="#ff00ff"/>
<path d="M268.7 222.9L270.8 219.0L266.6 219.0Z" fill="#ff00ff"/>
<path d="M289.7 211.2L291.8 207.3L287.6 207.3Z" fill="#ff00ff"/>
<path d="M305.5 205.4L307.6 201.5L303.4 201.5Z" fill="#ff00ff"/>
<path d="M326.3 203.1L328.4 199.2L324.2 199.2Z" fill="#ff00ff"/>
<path d="M341.5 202.8L343.6 198.9L339.4 198.9Z" fill="#ff00ff"/>
<rect x="230.6" y="189.25" width="129.1" height="94.35000000000002" fill="none" stroke="#000" stroke-width="1.05"/>
<text x="242.3" y="292.2" font-size="8.2" text-anchor="middle">0</text>
<text x="265.8" y="292.2" font-size="8.2" text-anchor="middle">5</text>
<text x="289.3" y="292.2" font-size="8.2" text-anchor="middle">10</text>
<text x="312.8" y="292.2" font-size="8.2" text-anchor="middle">15</text>
<text x="336.2" y="292.2" font-size="8.2" text-anchor="middle">20</text>
<text x="359.7" y="292.2" font-size="8.2" text-anchor="middle">25</text>
<text x="228.1" y="191.3" font-size="8.2" text-anchor="end">2</text>
<text x="228.1" y="203.1" font-size="8.2" text-anchor="end">0</text>
<text x="228.1" y="214.9" font-size="8.2" text-anchor="end">-2</text>
<text x="228.1" y="226.7" font-size="8.2" text-anchor="end">-4</text>
<text x="228.1" y="238.5" font-size="8.2" text-anchor="end">-6</text>
<text x="228.1" y="250.3" font-size="8.2" text-anchor="end">-8</text>
<text x="228.1" y="262.1" font-size="8.2" text-anchor="end">-10</text>
<text x="228.1" y="273.9" font-size="8.2" text-anchor="end">-12</text>
<text x="228.1" y="285.7" font-size="8.2" text-anchor="end">-14</text>
<text x="295.1" y="302.5" font-size="10.35" text-anchor="middle">Distance (mm)</text>
<text transform="translate(209.7 257.1) rotate(-90)" font-size="8.7" font-weight="normal">θ<tspan font-size="6.4" dy="4.1" font-weight="bold">avg</tspan><tspan dy="-4.1" letter-spacing="0.45">(°)</tspan></text>
<text x="258.2" y="274.1" font-size="10.85">3.0 mm</text>
<path d="M316.7 248.5h11.2" stroke="#000000" stroke-width="1" fill="none"/>
<rect x="320.69" y="246.93" width="3.23" height="3.23" rx="0.5" fill="#000000"/>
<text x="329.6" y="250.8" font-size="6.6">650 nm</text>
<path d="M316.7 256.9h11.2" stroke="#ff0000" stroke-width="1" fill="none"/>
<circle cx="322.3" cy="256.9" r="1.70" fill="#ff0000"/>
<text x="329.6" y="259.2" font-size="6.6">500 nm</text>
<path d="M316.7 265.3h11.2" stroke="#0000ff" stroke-width="1" fill="none"/>
<path d="M322.3 262.9L324.5 266.9L320.1 266.9Z" fill="#0000ff"/>
<text x="329.6" y="267.6" font-size="6.6">350 nm</text>
<path d="M316.7 273.8h11.2" stroke="#ff00ff" stroke-width="1" fill="none"/>
<path d="M322.3 276.2L324.5 272.2L320.1 272.2Z" fill="#ff00ff"/>
<text x="329.6" y="276.1" font-size="6.6">250 nm</text>
</g>
</svg>
</body></html>
